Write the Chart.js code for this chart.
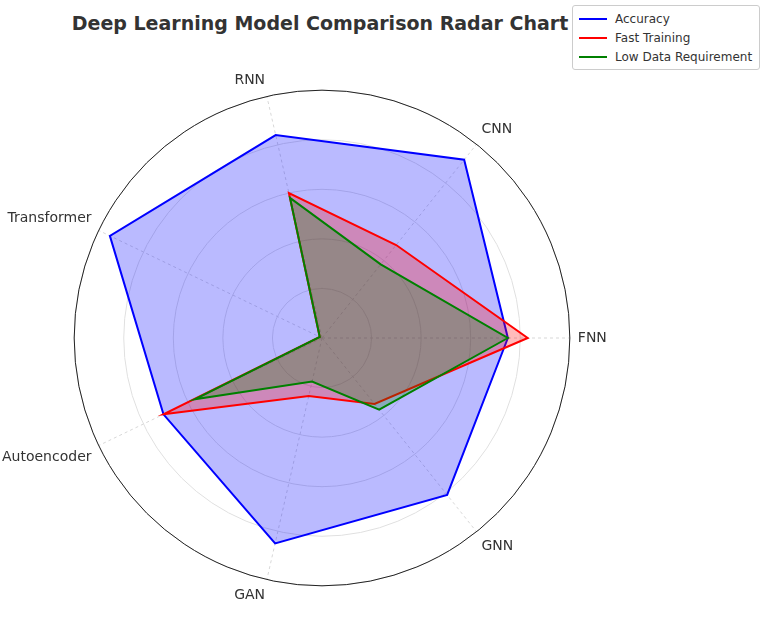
<!DOCTYPE html>
<html><head><meta charset="utf-8">
<script src="https://cdn.jsdelivr.net/npm/chart.js@4"></script>
<style>
body{margin:0;background:#fff;font-family:"DejaVu Sans";overflow:hidden;}
#title{position:absolute;left:0;width:640px;top:12px;text-align:center;font-weight:bold;font-size:19px;color:#333;}
#wrap{position:absolute;left:-15px;top:40px;width:640px;height:596px;}
#legend{position:absolute;left:572px;top:5px;width:186px;border:1px solid #ccc;border-radius:3px;background:#fff;font-size:12px;color:#333;padding:3px 0;z-index:2;}
#legend div{display:flex;align-items:center;height:19px;padding-left:6px;}
#legend span{display:inline-block;width:28px;height:2px;margin-right:8px;}
</style></head><body>
<div id="title">Deep Learning Model Comparison Radar Chart</div>
<div id="wrap"><canvas id="c"></canvas></div>
<div id="legend"></div>
<script>
const categories = ["FNN","CNN","RNN","Transformer","Autoencoder","GAN","GNN"];
const accuracy = [0.75,0.92,0.84,0.95,0.71,0.85,0.81];
const fastTraining = [0.83,0.48,0.60,0.01,0.71,0.24,0.34];
const lowData = [0.75,0.38,0.58,0.01,0.57,0.18,0.37];
const seriesNames = ["Accuracy","Fast Training","Low Data Requirement"];
const lineColors = ["#0000ff","#ff0000","#008000"];
const fillColors = ["rgba(0,0,255,0.27)","rgba(255,0,0,0.27)","rgba(0,128,0,0.27)"];

const ord = a => [a[0]].concat(a.slice(1).reverse());
const all = [accuracy, fastTraining, lowData];

const lg = document.getElementById('legend');
seriesNames.forEach((n,i)=>{const d=document.createElement('div');d.innerHTML='<span style="background:'+lineColors[i]+'"></span>'+n;lg.appendChild(d);});

const outer = {id:'outer',afterDatasetsDraw(ch){const s=ch.scales.r;const c=ch.ctx;c.save();c.beginPath();c.arc(s.xCenter,s.yCenter,s.drawingArea,0,Math.PI*2);c.strokeStyle='#222';c.lineWidth=1;c.stroke();c.restore();}};

new Chart(document.getElementById('c'),{
 type:'radar',
 data:{labels:ord(categories),datasets:all.map((d,i)=>({label:seriesNames[i],data:ord(d),borderColor:lineColors[i],backgroundColor:fillColors[i],borderWidth:2,pointRadius:0,fill:true,tension:0,order:2-i}))},
 options:{responsive:true,maintainAspectRatio:false,animation:false,
  layout:{padding:{left:-75,right:-75,top:-55,bottom:-55}},
  plugins:{legend:{display:false},tooltip:{enabled:false}},
  scales:{r:{min:0,max:1,startAngle:90,
   ticks:{display:false,stepSize:0.2},
   grid:{circular:true,color:'#e0e0e0',borderDash:[3,3]},
   angleLines:{color:'#d8d8d8',borderDash:[3,3]},
   pointLabels:{font:{family:'DejaVu Sans',size:14},color:'#333',padding:8}}}},
 plugins:[outer]
});
</script></body></html>
